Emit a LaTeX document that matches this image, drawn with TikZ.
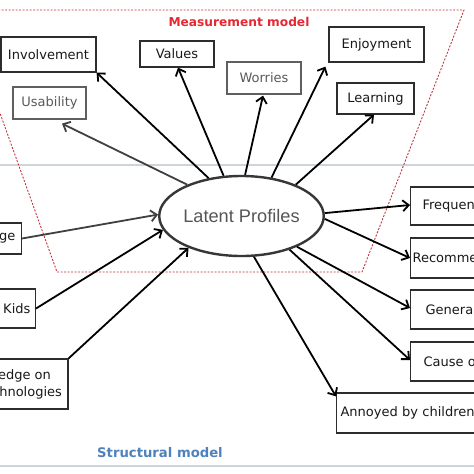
\documentclass[tikz,border=0pt]{standalone}
\usepackage{fontspec}
\setmainfont{DejaVu Sans}
\newfontfamily\arialfont{Liberation Sans}
\usetikzlibrary{arrows.meta,shapes.geometric}
\definecolor{boxline}{RGB}{45,45,45}
\definecolor{boxtext}{RGB}{25,25,25}
\definecolor{softtext}{RGB}{90,90,90}
\definecolor{softline}{RGB}{95,95,95}
\definecolor{redline}{RGB}{200,50,60}
\definecolor{redtext}{RGB}{230,40,50}
\definecolor{bluetext}{RGB}{79,129,189}
\definecolor{slide}{RGB}{205,212,218}
\definecolor{ellline}{RGB}{55,55,55}
\definecolor{elltext}{RGB}{85,85,85}
\tikzset{
  box/.style={draw=boxline, line width=1.2pt, fill=white, text=boxtext,
    font=\fontsize{13}{15}\selectfont, inner sep=0pt},
  softbox/.style={box, draw=softline, text=softtext},
  conn/.style={line width=1.8pt, draw=black, -{Straight Barb[length=6pt,width=11pt]}},
  softconn/.style={conn, draw=black!75},
}
\begin{document}
\begin{tikzpicture}[x=1pt,y=-1pt]
\useasboundingbox (0,0) rectangle (474,474);
\clip (0,0) rectangle (474,474);
\fill[white] (0,0) rectangle (474,474);
% slide borders
\draw[slide, line width=1.5pt] (0,165) -- (474,165);
\draw[slide, line width=1.5pt] (0,466) -- (474,466);
% measurement trapezoid
\draw[redline, line width=0.9pt, dash pattern=on 2pt off 1.5pt]
  (-37,10) -- (464,10) -- (362,272) -- (57,272) -- cycle;
\node[text=redtext, font=\bfseries\fontsize{12.2}{14}\selectfont] (mm) at (239,22) {Measurement model};
\node[text=bluetext, font=\bfseries\fontsize{13.2}{15}\selectfont] (sm) at (160,453) {Structural model};
% central ellipse
\node[draw=ellline, line width=2.4pt, ellipse, minimum width=149pt, minimum height=80pt,
  fill=white, text=elltext, font=\arialfont\fontsize{18.2}{20}\selectfont, inner sep=0pt] (lp) at (241.5,216) {Latent Profiles};
% measurement boxes
\node[box, minimum width=95pt, minimum height=35pt] (inv) at (48.5,54.5) {Involvement};
\node[box, minimum width=74pt, minimum height=26pt] (val) at (177,54) {Values};
\node[softbox, minimum width=73pt, minimum height=32pt] (usa) at (49.5,103) {Usability};
\node[softbox, minimum width=74pt, minimum height=32pt] (wor) at (264,78) {Worries};
\node[box, minimum width=95pt, minimum height=35pt] (enj) at (376.5,44.5) {Enjoyment};
\node[box, minimum width=77pt, minimum height=31pt] (lea) at (375.5,98.5) {Learning};
% left structural boxes
\node[box, anchor=east, minimum height=31pt, text width=70pt, align=right, inner xsep=6pt] (age) at (22,238.5) {ge};
\node[box, anchor=east, minimum height=39pt, text width=70pt, align=right, inner xsep=5pt] (kid) at (36,308.5) {Kids};
\node[box, minimum width=126pt, minimum height=50pt, align=center,
  font=\fontsize{13}{17}\selectfont] (kno) at (5,384) {Knowledge on\\new technologies};
% right structural boxes
\node[box, anchor=west, minimum height=38pt, text width=120pt, align=left, inner xsep=12pt] (fre) at (410,206) {Frequency};
\node[box, anchor=west, minimum height=40pt, text width=120pt, align=left, inner xsep=2pt] (rec) at (410,258) {Recommendation};
\node[box, anchor=west, minimum height=39pt, text width=120pt, align=left, inner xsep=15pt] (gen) at (410,309.5) {General};
\node[box, anchor=west, minimum height=39pt, text width=120pt, align=left, inner xsep=13pt] (cau) at (410,361.5) {Cause of};
\node[box, anchor=west, minimum height=40pt, text width=170pt, align=left, inner xsep=4pt] (ann) at (336,413) {Annoyed by children's};
% measurement arrows
\draw[conn] (lp.131) -- (inv.south east);
\draw[conn] (lp.114) -- ([xshift=1pt]val.south);
\draw[softconn] (lp.150) -- ([xshift=12.5pt,yshift=-4pt]usa.south);
\draw[conn] (lp.85) -- ([xshift=-1pt,yshift=-1pt]wor.south);
\draw[conn] (lp.52) -- ([xshift=-3pt,yshift=-4pt]enj.south west);
\draw[conn] (lp.30) -- ([xshift=-1.5pt]lea.south);
% structural arrows
\draw[softconn] (age.east) -- (lp.179);
\draw[conn] (kid.east) -- (lp.190);
\draw[conn] (kno.north east) -- (lp.211);
\draw[conn] (lp.2) -- ([yshift=1pt]fre.west);
\draw[conn] (lp.-2) -- (rec.west);
\draw[conn] (lp.-29) -- ([yshift=1.5pt]gen.west);
\draw[conn] (lp.-35) -- ([yshift=1.5pt]cau.west);
\draw[conn] (lp.-73) -- ([yshift=-4pt]ann.north west);
\end{tikzpicture}
\end{document}
